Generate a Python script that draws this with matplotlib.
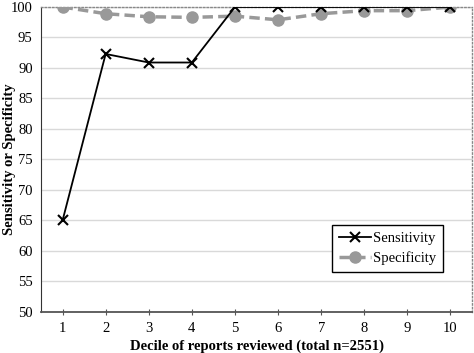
import numpy as np
import matplotlib
matplotlib.use('Agg')
import matplotlib.pyplot as plt

plt.rcParams['font.family'] = ['Liberation Serif', 'DejaVu Serif']

deciles = ['1', '2', '3', '4', '5', '6', '7', '8', '9', '10']
sensitivity = [65.0, 92.3, 90.9, 90.9, 100, 100, 100, 100, 100, 100]
specificity = [100, 98.9, 98.4, 98.3, 98.5, 97.9, 98.9, 99.4, 99.4, 100]

fig = plt.figure(figsize=(4.74, 3.53), dpi=100)
ax = fig.add_axes([41/474, 1 - 312/353, 431/474, 305/353])

x = np.arange(1, len(deciles) + 1)

ax.plot(x, specificity, color='#999999', lw=2.5, ls=(0, (3, 1.5)),
        marker='o', ms=8, label='Specificity', zorder=3)
ax.plot(x, sensitivity, color='black', lw=1.3, marker='x', ms=7,
        mew=1.5, label='Sensitivity', zorder=4)

ax.set_xlim(0.5, 10.5)
ax.set_ylim(50, 100)
ax.set_xticks(x)
ax.set_xticklabels(deciles)
ax.set_yticks(np.arange(50, 101, 5))
ax.yaxis.grid(True, color='#d9d9d9', lw=1)
ax.set_axisbelow(True)
ax.tick_params(axis='y', length=0, labelsize=10.5, pad=6)
ax.tick_params(axis='x', direction='inout', length=5, labelsize=10.5, pad=5, color='#555555')

for side in ['top', 'right']:
    ax.spines[side].set_color('#888888')
    ax.spines[side].set_linestyle(':')
    ax.spines[side].set_linewidth(1)
ax.spines['left'].set_color('#333333')
ax.spines['bottom'].set_color('#555555')
ax.spines['bottom'].set_linewidth(1.3)

ax.set_xlabel('Decile of reports reviewed (total n=2551)', fontsize=10.5,
              fontweight='bold', labelpad=3)
ax.set_ylabel('Sensitivity or Specificity', fontsize=10.5, fontweight='bold',
              va='center')
ax.yaxis.set_label_coords(-31/431, 0.5)

handles, labels = ax.get_legend_handles_labels()
leg = ax.legend(handles[::-1], labels[::-1], loc='lower right',
                bbox_to_anchor=(402/431, 40/305), borderaxespad=0,
                fontsize=10.5, fancybox=False, edgecolor='black',
                framealpha=1, handlelength=2.2, handletextpad=0.1,
                borderpad=0.5, labelspacing=0.4)
leg.get_frame().set_linewidth(1)

fig.savefig('out.png', dpi=100)
